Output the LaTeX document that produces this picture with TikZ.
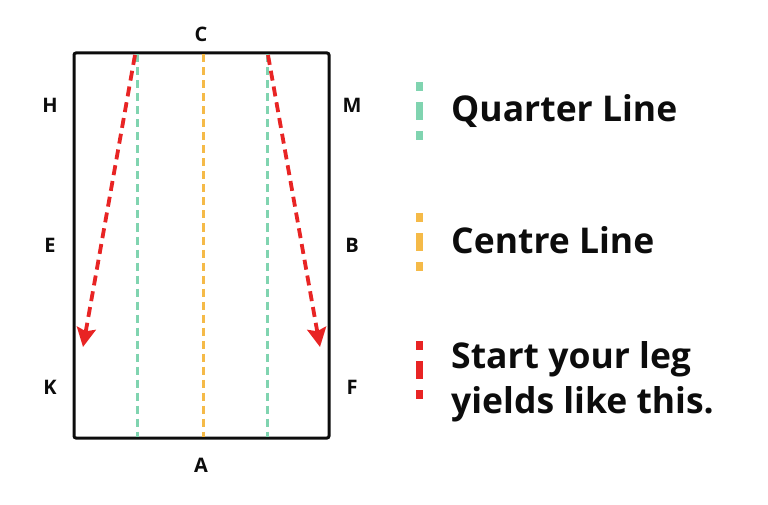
\documentclass[tikz,border=0pt]{standalone}
\usepackage{fontspec}
\setmainfont{Open Sans}
\usepackage{tikz}
\usetikzlibrary{arrows.meta,positioning,calc}
\usepackage{xcolor}
\definecolor{quartergreen}{RGB}{128,212,176}
\definecolor{centreorange}{RGB}{245,186,72}
\definecolor{yieldred}{RGB}{232,36,36}
\definecolor{inkblack}{RGB}{12,12,12}

\tikzset{
    arenabox/.style={draw=inkblack,line width=3pt,rounded corners=2pt,inner sep=0pt,minimum width=255pt,minimum height=385pt},
    markerletter/.style={font=\bfseries\fontsize{20}{20}\selectfont,text=inkblack,inner sep=0pt},
    quarterline/.style={quartergreen,line width=3pt,dash pattern=on 8pt off 5pt},
    centreline/.style={centreorange,line width=3pt,dash pattern=on 8pt off 5pt},
    yieldarrow/.style={yieldred,line width=3.8pt,dash pattern=on 10pt off 6pt,-{Stealth[length=19pt,width=19pt,inset=3pt]}},
    keybar/.style={line width=7pt,dash pattern=on 18pt off 11pt,dash phase=9pt},
    keytext/.style={font=\bfseries\fontsize{35.5}{45}\selectfont,text=inkblack,anchor=base west,inner sep=0pt,align=left}
}

\begin{document}
\begin{tikzpicture}[x=1pt,y=-1pt]
        \useasboundingbox (0,0) rectangle (768,505);
        % Arena
        \node[arenabox] (arena) at (201.5,245.5) {};

        % Markers
        \node[markerletter] (C) at (201,34) {C};
        \node[markerletter] (A) at (201,465) {A};
        \node[markerletter] (H) at (50,105) {H};
        \node[markerletter] (E) at (50,245) {E};
        \node[markerletter] (K) at (50,387) {K};
        \node[markerletter] (M) at (352,105) {M};
        \node[markerletter] (B) at (352,245) {B};
        \node[markerletter] (F) at (352,387) {F};

        % Quarter and centre lines
        \coordinate (qlefttop) at (137,54.5);
        \coordinate (qleftbot) at (137,436.5);
        \coordinate (qrighttop) at (267,54.5);
        \coordinate (qrightbot) at (267,436.5);
        \coordinate (centretop) at (203,54.5);
        \coordinate (centrebot) at (203,436.5);
        \draw[quarterline] (qlefttop) -- (qleftbot);
        \draw[quarterline] (qrighttop) -- (qrightbot);
        \draw[centreline] (centretop) -- (centrebot);

        % Leg yields
        \coordinate (yieldleftstart) at (135,55);
        \coordinate (yieldleftend) at (83,347);
        \coordinate (yieldrightstart) at (268,55);
        \coordinate (yieldrightend) at (320,347);
        \draw[yieldarrow] (yieldleftstart) -- (yieldleftend);
        \draw[yieldarrow] (yieldrightstart) -- (yieldrightend);

        % Key
        \coordinate (keyqtop) at (419,82);
        \coordinate (keyqbot) at (419,140);
        \coordinate (keyctop) at (419,213);
        \coordinate (keycbot) at (419,271);
        \coordinate (keyytop) at (419,341);
        \coordinate (keyybot) at (419,399);
        \draw[keybar,quartergreen] (keyqtop) -- (keyqbot);
        \draw[keybar,centreorange] (keyctop) -- (keycbot);
        \draw[keybar,yieldred] (keyytop) -- (keyybot);
        \node[keytext] (quarterkey) at (451,122) {Quarter Line};
        \node[keytext] (centrekey) at (451,253) {Centre Line};
        \node[keytext] (yieldkey) at (451,413) {Start your leg\\yields like this.};
    \end{tikzpicture}
\end{document}
